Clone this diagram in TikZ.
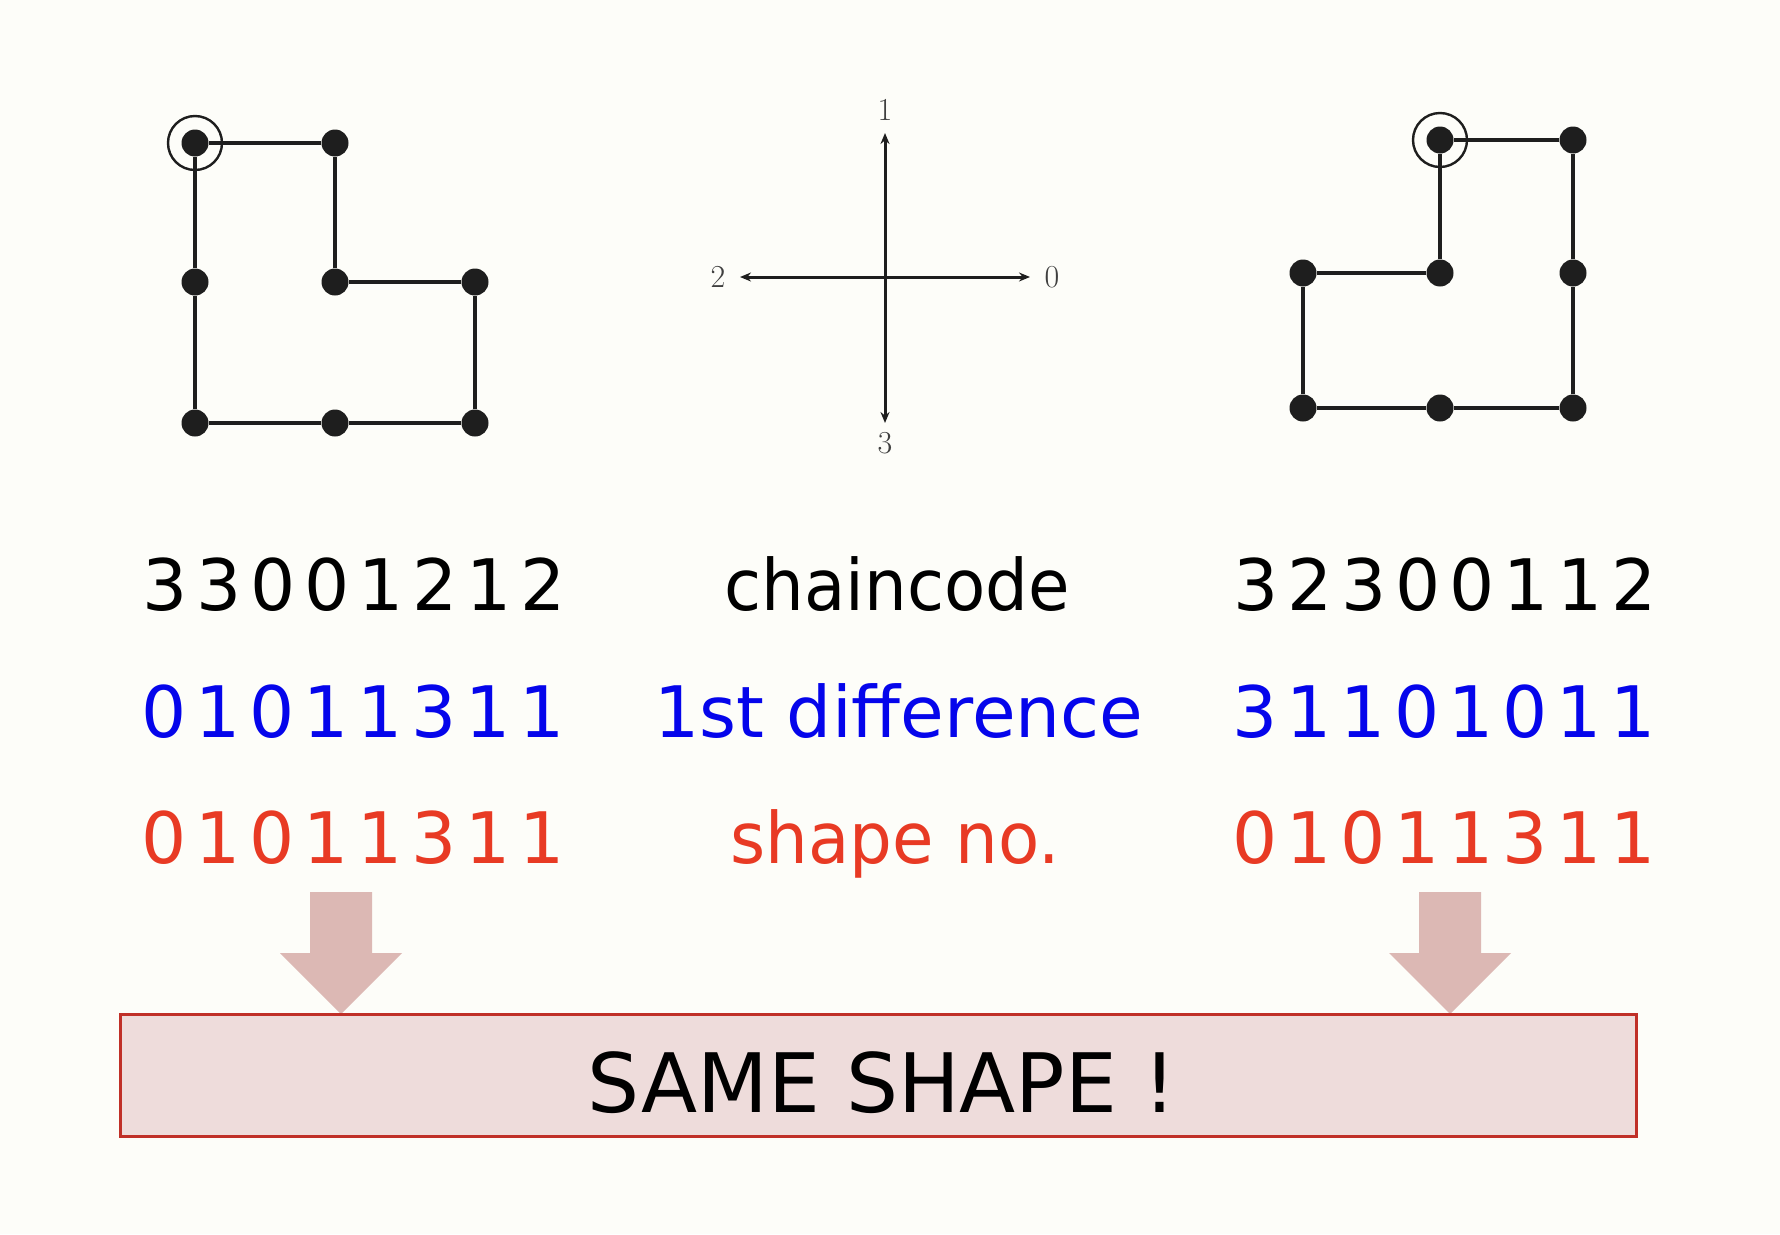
\documentclass[tikz,border=0pt]{standalone}
\usepackage{fontspec}
\setsansfont{DejaVu Sans}
\newfontfamily\wordfont[FakeStretch=0.95]{DejaVu Sans}
\usetikzlibrary{arrows.meta}

\definecolor{paper}{RGB}{253,253,249}
\definecolor{ink}{RGB}{30,30,30}
\definecolor{diffblue}{RGB}{5,5,235}
\definecolor{shapered}{RGB}{232,58,36}
\definecolor{boxred}{RGB}{192,48,40}
\definecolor{boxpink}{RGB}{238,220,219}
\definecolor{arrowpink}{RGB}{220,184,180}

\newcommand{\codegap}{\spaceskip=8.8pt\relax}

\begin{document}
\begin{tikzpicture}[
		x=1pt,y=-1pt,
		dot/.style={circle,fill=ink,inner sep=0pt,minimum size=27pt},
		ring/.style={circle,draw=ink,line width=2.4pt,inner sep=0pt,minimum size=54pt},
		edge/.style={line width=4pt,ink},
		axis/.style={line width=3pt,ink,-{Stealth[length=11pt,width=9pt]}},
		dirlabel/.style={text=black!75,font=\fontsize{32}{32}\selectfont},
		code/.style={anchor=base,font=\sffamily\fontsize{71}{80}\selectfont,execute at begin node=\codegap},
		word/.style={anchor=base,font=\wordfont\fontsize{71}{80}\selectfont}
		]
		\fill[paper] (0,0) rectangle (1780,1234);
		
		% left shape
		\node[dot] (la) at (195,143) {};
		\node[dot] (lb) at (335,143) {};
		\node[dot] (lc) at (335,282) {};
		\node[dot] (ld) at (475,282) {};
		\node[dot] (le) at (475,423) {};
		\node[dot] (lf) at (335,423) {};
		\node[dot] (lg) at (195,423) {};
		\node[dot] (lh) at (195,282) {};
		\node[ring] (lstart) at (la) {};
		\draw[edge] (la) -- (lh) -- (lg) -- (lf) -- (le) -- (ld) -- (lc) -- (lb) -- (la);
		
		% directions
		\coordinate (o) at (885,277);
		\coordinate (e0) at (1030,277);
		\coordinate (e1) at (885,133);
		\coordinate (e2) at (740,277);
		\coordinate (e3) at (885,423);
		\draw[axis] (o) -- (e0);
		\draw[axis] (o) -- (e1);
		\draw[axis] (o) -- (e2);
		\draw[axis] (o) -- (e3);
		\node[dirlabel] (d0) at (1052,277) {0};
		\node[dirlabel] (d1) at (885,110) {1};
		\node[dirlabel] (d2) at (718,277) {2};
		\node[dirlabel] (d3) at (885,443) {3};
		
		% right shape
		\node[dot] (ra) at (1440,140) {};
		\node[dot] (rb) at (1440,273) {};
		\node[dot] (rc) at (1303,273) {};
		\node[dot] (rd) at (1303,408) {};
		\node[dot] (re) at (1440,408) {};
		\node[dot] (rf) at (1573,408) {};
		\node[dot] (rg) at (1573,273) {};
		\node[dot] (rh) at (1573,140) {};
		\node[ring] (rstart) at (ra) {};
		\draw[edge] (ra) -- (rb) -- (rc) -- (rd) -- (re) -- (rf) -- (rg) -- (rh) -- (ra);
		
		% codes
		\node[code] (lcode) at (354,610) {3 3 0 0 1 2 1 2};
		\node[word] (mcode) at (897,610) {chaincode};
		\node[code] (rcode) at (1445,610) {3 2 3 0 0 1 1 2};
		\node[code,text=diffblue] (ldiff) at (353,737) {0 1 0 1 1 3 1 1};
		\node[word,text=diffblue,font=\sffamily\fontsize{71}{80}\selectfont] (mdiff) at (899,737) {1st difference};
		\node[code,text=diffblue] (rdiff) at (1444,737) {3 1 1 0 1 0 1 1};
		\node[code,text=shapered] (lshape) at (353,863) {0 1 0 1 1 3 1 1};
		\node[word,text=shapered] (mshape) at (895,863) {shape no.};
		\node[code,text=shapered] (rshape) at (1444,863) {0 1 0 1 1 3 1 1};
		
		% result
		\foreach \ax in {341,1450} {
			\fill[arrowpink] (\ax-31,892) -- (\ax+31,892) -- (\ax+31,953) -- (\ax+61,953)
				-- (\ax,1014) -- (\ax-61,953) -- (\ax-31,953) -- cycle;
		}
		\node[draw=boxred,fill=boxpink,line width=3pt,inner sep=0pt,
			minimum width=1516pt,minimum height=122pt] (samebox) at (878,1075) {};
		\node[anchor=base,font=\sffamily\fontsize{82}{90}\selectfont] (same) at (882,1112) {SAME SHAPE !};
	\end{tikzpicture}
\end{document}
